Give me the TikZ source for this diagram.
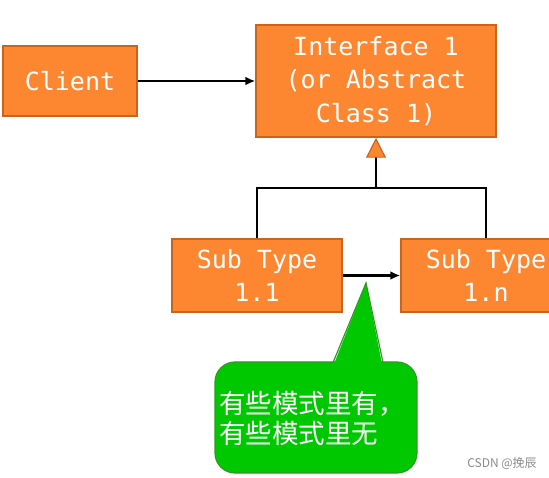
\documentclass[tikz,border=0pt]{standalone}
\usepackage{fontspec}
\newfontfamily\boxmono{DejaVu Sans Mono}
\newfontfamily\cjk{Noto Sans CJK SC}
\usetikzlibrary{arrows.meta}
\definecolor{ofill}{HTML}{FD8631}
\definecolor{oborder}{HTML}{C8651B}
\definecolor{gfill}{HTML}{00C800}
\definecolor{gborder}{HTML}{2E9A22}
\definecolor{wm}{HTML}{8A8A8A}
\tikzset{
  obox/.style={draw=oborder, fill=ofill, line width=1.5pt, text=white,
    font=\boxmono\fontsize{25}{33.5}\selectfont, align=center, inner sep=0pt},
  conn/.style={line width=2.2pt, black},
  tip/.style={-{Latex[length=10pt,width=9pt]}},
}
\begin{document}
\begin{tikzpicture}[x=1pt, y=-1pt]
\useasboundingbox (0,0) rectangle (549,478);
\clip (0,0) rectangle (549,478);
% boxes
\node[obox, minimum width=134pt, minimum height=70pt] (client) at (70,81) {Client};
\node[obox, minimum width=240pt, minimum height=112pt] (iface) at (376,81) {\raisebox{-2pt}{\parbox{230pt}{\centering Interface 1\\(or Abstract\\Class 1)}}};
\node[obox, minimum width=170pt, minimum height=73pt] (sub1) at (257,275.5) {Sub Type\\1.1};
\node[obox, minimum width=170pt, minimum height=73pt] (subn) at (486,275.5) {Sub Type\\1.n};
% connectors
\draw[conn, tip] (client) -- (iface);
\draw[conn, tip] (sub1) -- (subn);
\coordinate (junction) at (376,188);
\draw[conn] (sub1.north) |- (junction) -| (subn.north);
\draw[conn, -{Triangle[length=20pt,width=20pt,fill=ofill,color=oborder,line width=1.2pt]}] (junction) -- (iface.south);
% callout
\draw[fill=gfill, draw=gborder, line width=1.2pt, rounded corners=20pt] (215,362) rectangle (417,473);
\fill[gfill] (334,364) -- (366,283) -- (382,364) -- cycle;
\draw[gborder, line width=1.2pt, line join=miter] (333,362.6) -- (366,283) -- (383,362.6);
\node[anchor=north west, text=white, align=left, inner sep=0pt,
  font=\cjk\fontsize{26.5}{30.5}\selectfont] (note) at (219,391) {有些模式里有，\\有些模式里无};
% watermark
\node[text=wm, font=\cjk\fontsize{12}{14}\selectfont, inner sep=0pt] (mark) at (502,463) {CSDN @挽辰};
\end{tikzpicture}
\end{document}
